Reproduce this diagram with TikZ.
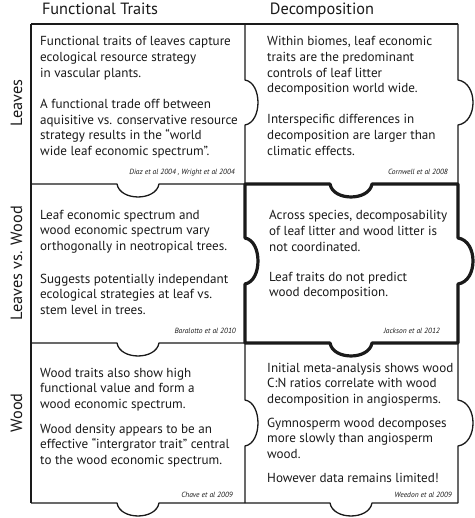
\documentclass[tikz,border=0pt]{standalone}
\usepackage{fontspec}
\setmainfont{PT Sans}
\newcommand{\tb}[1]{\begin{tabular}[t]{@{}l@{}}#1\end{tabular}}
\newcommand{\bodyfont}{\fontsize{13.1}{15.6}\selectfont}
\newcommand{\headfont}{\fontsize{16.3}{20}\selectfont}
\newcommand{\citefont}{\fontsize{7.5}{9}\selectfont\itshape}
\definecolor{ink}{HTML}{1A1A1A}
\tikzset{
  txt/.style={anchor=base west, inner sep=0pt, font=\bodyfont, text=ink},
  cite/.style={anchor=base east, inner sep=0pt, font=\citefont, text=ink},
  head/.style={anchor=base, inner sep=0pt, font=\headfont, text=ink},
  rowlab/.style={anchor=base, inner sep=0pt, font=\headfont, text=ink, rotate=90},
  thin/.style={draw=ink, line width=1.3pt, line join=round},
  bold/.style={draw=ink, line width=3.2pt, line join=round}
}
\begin{document}
\begin{tikzpicture}[x=1pt,y=-1pt]
\fill[white] (0,0) rectangle (474,518);
\useasboundingbox (0,0) rectangle (474,518);
% grid
\draw[thin] (31,24) -- (458,24);
\draw[thin] (31,24) -- (31,503);
\draw[thin] (31,503) -- (117,503) .. controls (120,520.3) and (156,520.3) .. (159,503)
  -- (330,503) .. controls (333,520.3) and (369,520.3) .. (372,503) -- (458,503);
\draw[thin] (458,24) -- (458,80) .. controls (478,83) and (478,122) .. (458,125)
  -- (458,238) .. controls (478,241) and (478,281) .. (458,284)
  -- (458,400) .. controls (478,403) and (478,443) .. (458,446) -- (458,503);
\draw[thin] (245,24) -- (245,80) .. controls (262.3,83) and (262.3,122) .. (245,125)
  -- (245,238) .. controls (262.3,241) and (262.3,281) .. (245,284)
  -- (245,400) .. controls (262.3,403) and (262.3,443) .. (245,446) -- (245,503);
\draw[thin] (31,184) -- (117,184) .. controls (120,201.3) and (156,201.3) .. (159,184)
  -- (330,184) .. controls (333,201.3) and (369,201.3) .. (372,184) -- (458,184);
\draw[thin] (31,343) -- (117,343) .. controls (120,360.3) and (156,360.3) .. (159,343)
  -- (330,343) .. controls (333,360.3) and (369,360.3) .. (372,343) -- (458,343);
% highlighted cell
\draw[bold] (245,184) -- (330,184) .. controls (333,201.3) and (369,201.3) .. (372,184)
  -- (458,184) -- (458,238) .. controls (478,241) and (478,281) .. (458,284)
  -- (458,343) -- (372,343) .. controls (369,360.3) and (333,360.3) .. (330,343)
  -- (245,343) -- (245,284) .. controls (262.3,281) and (262.3,241) .. (245,238) -- cycle;
% headers
\node[head] (hft) at (100,15) {Functional Traits};
\node[head] (hdc) at (322,15) {Decomposition};
\node[rowlab] (rl1) at (22,103) {Leaves};
\node[rowlab] (rl2) at (22,263) {Leaves vs. Wood};
\node[rowlab] (rl3) at (22,413) {Wood};
% row 1
\node[txt] (a1) at (40,46) {\tb{Functional traits of leaves capture\\ecological resource strategy\\in vascular plants.}};
\node[txt] (a2) at (40,108.5) {\tb{A functional trade off between\\aquisitive vs. conservative resource\\strategy results in the “world\\wide leaf economic spectrum”.}};
\node[cite] (ac) at (235,175) {Diaz et al 2004 , Wright et al 2004};
\node[txt] (b1) at (267,46) {\tb{Within biomes, leaf economic\\traits are the predominant\\controls of leaf litter\\decomposition world wide.}};
\node[txt] (b2) at (267,124) {\tb{Interspecific differences in\\decomposition are larger than\\climatic effects.}};
\node[cite] (bc) at (448,175) {Cornwell et al 2008};
% row 2
\node[txt] (c1) at (40,219) {\tb{Leaf economic spectrum and\\wood economic spectrum vary\\orthogonally in neotropical trees.}};
\node[txt] (c2) at (40,283) {\tb{Suggests potentially independant\\ecological strategies at leaf vs.\\stem level in trees.}};
\node[cite] (cc) at (236,333) {Baralotto et al 2010};
\node[txt] (d1) at (269,220) {\tb{Across species, decomposability\\of leaf litter and wood litter is\\not coordinated.}};
\node[txt] (d2) at (269,281) {\tb{Leaf traits do not predict\\wood decomposition.}};
\node[cite] (dc) at (440,333) {Jackson et al 2012};
% row 3
\node[txt] (e1) at (40,377) {\tb{Wood traits also show high\\functional value and form a\\wood economic spectrum.}};
\node[txt] (e2) at (40,433) {\tb{Wood density appears to be an\\effective “intergrator trait” central\\to the wood economic spectrum.}};
\node[cite] (ec) at (233,497) {Chave et al 2009};
\node[txt] (f1) at (267,372) {\tb{Initial meta-analysis shows wood\\C:N ratios correlate with wood\\decomposition in angiosperms.}};
\node[txt] (f2) at (267,427) {\tb{Gymnosperm wood decomposes\\more slowly than angiosperm\\wood.}};
\node[txt] (f3) at (267,482) {However data remains limited!};
\node[cite] (fc) at (452,497) {Weedon et al 2009};
\end{tikzpicture}
\end{document}
